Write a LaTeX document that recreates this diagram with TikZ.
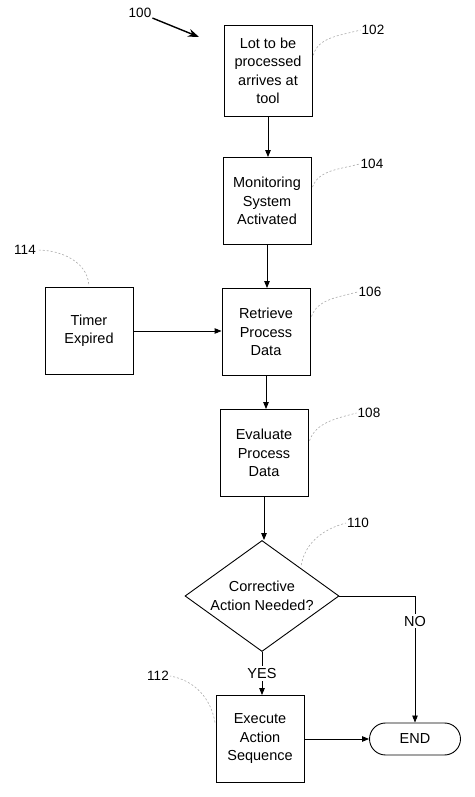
\documentclass[tikz,border=0pt]{standalone}
\usepackage{fontspec}
\setmainfont{Liberation Sans}
\usepackage{tikz}
\usetikzlibrary{arrows.meta, shapes.geometric}
\usepackage{xcolor}
\definecolor{LeadGray}{HTML}{ABABAB}

\begin{document}
\begin{tikzpicture}[>={Triangle[length=7pt, width=5.5pt]}, x=1pt, y=1pt,
  box/.style={draw, line width=0.9pt, minimum width=88pt, minimum height=87pt,
    inner sep=2pt, align=center, font=\fontsize{14.5}{18.5}\selectfont},
  decision/.style={draw, diamond, aspect=1.4, line width=0.9pt, minimum width=154pt,
    minimum height=111pt, inner sep=0pt, align=center, font=\fontsize{14.5}{19}\selectfont},
  terminal/.style={draw, rounded corners=16pt, line width=0.9pt, minimum width=91pt,
    minimum height=32pt, font=\fontsize{14.5}{18}\selectfont},
  refnum/.style={font=\fontsize{13.5}{15}\selectfont, inner sep=1pt},
  leader/.style={LeadGray, line width=0.6pt, dash pattern=on 2pt off 2pt, shorten <=3pt},
  flow/.style={->, line width=0.9pt},
  yesno/.style={fill=white, inner sep=2pt, font=\fontsize{14.5}{18}\selectfont}]
  \useasboundingbox (0,0) rectangle (474,797);

  \node[box, minimum height=91pt] (lot) at (268,726) {Lot to be\\processed\\arrives at\\tool};
  \node[box] (monitor) at (267,596) {Monitoring\\System\\Activated};
  \node[box] (retrieve) at (266,465) {Retrieve\\Process\\Data};
  \node[box] (timer) at (89,466) {Timer\\Expired};
  \node[box] (evaluate) at (264,344) {Evaluate\\Process\\Data};
  \node[decision] (needed) at (262,201) {Corrective\\Action Needed?};
  \node[box] (execute) at (260,58) {Execute\\Action\\Sequence};
  \node[terminal] (finish) at (415,58) {END};

  \node[refnum] (r100) at (140,784) {100};
  \coordinate (p100) at (199,760);
  \node[refnum] (r102) at (373,767) {102};
  \node[refnum] (r104) at (372,633) {104};
  \node[refnum] (r106) at (370,505) {106};
  \node[refnum] (r108) at (369,384) {108};
  \node[refnum] (r110) at (358,274) {110};
  \node[refnum] (r114) at (25,547) {114};
  \node[refnum] (r112) at (158,121) {112};

  \draw[-{Stealth[length=11pt, width=8pt]}, line width=1.4pt] (r100) -- (p100);

  \draw[flow] (lot.south) -- (lot.south |- monitor.north);
  \draw[flow] (monitor.south) -- (monitor.south |- retrieve.north);
  \draw[flow] (retrieve.south) -- (retrieve.south |- evaluate.north);
  \draw[flow] (evaluate.south) -- (evaluate.south |- needed.north);
  \draw[flow] (timer.east) -- (timer.east -| retrieve.west);
  \draw[flow] (needed.south) -- node[yesno] {YES} (needed.south |- execute.north);
  \draw[flow] (needed.east) -| node[yesno, pos=0.6] {NO} (finish.north);
  \draw[flow] (execute.east) -- (execute.east -| finish.west);

  \draw[leader] (lot.16) to[out=75, in=195] (r102.west);
  \draw[leader] (monitor.14) to[out=70, in=195] (r104.west);
  \draw[leader] (retrieve.16) to[out=70, in=195] (r106.west);
  \draw[leader] (evaluate.12) to[out=70, in=195] (r108.west);
  \draw[leader] (needed.north east) to[out=80, in=195] (r110.west);
  \draw[leader] (timer.north) to[out=95, in=0] (r114.east);
  \draw[leader] (execute.163) to[out=100, in=-10] (r112.east);
\end{tikzpicture}
\end{document}
